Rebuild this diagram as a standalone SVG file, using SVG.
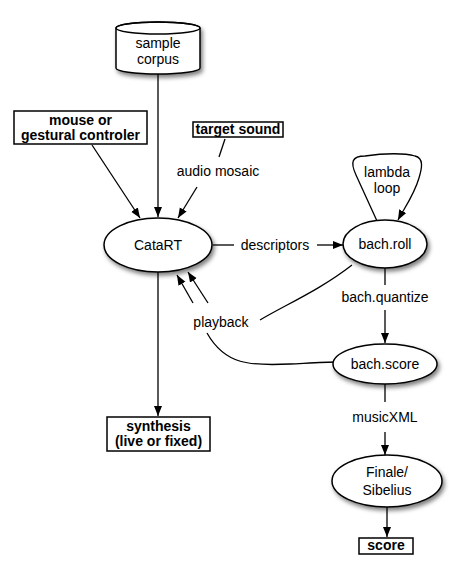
<svg xmlns="http://www.w3.org/2000/svg" width="465" height="575" viewBox="0 0 465 575">
<defs>
<filter id="sh" x="-20%" y="-20%" width="150%" height="160%">
<feDropShadow dx="2" dy="3" stdDeviation="2" flood-color="#000" flood-opacity="0.5"/>
</filter>
<marker id="ah" viewBox="0 0 10 10" refX="10" refY="5" markerWidth="10" markerHeight="10" markerUnits="userSpaceOnUse" orient="auto">
<path d="M0,1 L10,5 L0,9 Z" fill="#000"/>
</marker>
</defs>
<style>
text{font-family:"Liberation Sans",Arial,sans-serif;font-size:14px;fill:#000;text-anchor:middle}
.b{font-weight:bold}
.n{fill:#fff;stroke:#000;stroke-width:1.5}
.box{fill:#fff;stroke:#000;stroke-width:1.5}
.c{fill:none;stroke:#000;stroke-width:1.3}
</style>
<rect width="465" height="575" fill="#fff"/>
<g id="connectors">
<line class="c" x1="158" y1="74" x2="158" y2="217" marker-end="url(#ah)"/>
<line class="c" x1="92" y1="145" x2="140" y2="218" marker-end="url(#ah)"/>
<line class="c" x1="225" y1="139" x2="219" y2="157"/>
<line class="c" x1="197" y1="187" x2="178" y2="218" marker-end="url(#ah)"/>
<line class="c" x1="213" y1="245" x2="234" y2="245"/>
<line class="c" x1="317" y1="245" x2="343" y2="245" marker-end="url(#ah)"/>
<path class="c" d="M377,221 L356,175 C350,162 352,156 365,156 C385,153 405,153 415,156 C424,158 422,168 419,178 C414,195 405,207 398,220" marker-end="url(#ah)"/>
<line class="c" x1="385" y1="268" x2="385" y2="285"/>
<line class="c" x1="385" y1="310" x2="385" y2="343" marker-end="url(#ah)"/>
<path class="c" d="M352,265 C320,290 285,305 260,320"/>
<line class="c" x1="193" y1="303" x2="177" y2="275" marker-end="url(#ah)"/>
<line class="c" x1="208" y1="303" x2="188" y2="272" marker-end="url(#ah)"/>
<path class="c" d="M207,333 C225,365 250,366 290,364 C310,363 325,362 337,362"/>
<line class="c" x1="385" y1="384" x2="385" y2="402"/>
<line class="c" x1="385" y1="432" x2="385" y2="455" marker-end="url(#ah)"/>
<line class="c" x1="158" y1="272" x2="158" y2="416" marker-end="url(#ah)"/>
<line class="c" x1="387" y1="507" x2="387" y2="537" marker-end="url(#ah)"/>
<text x="218" y="176">audio mosaic</text>
<text x="275" y="250">descriptors</text>
<text x="385" y="302">bach.quantize</text>
<text x="221" y="327">playback</text>
<text x="385" y="422">musicXML</text>
<text x="387" y="177">lambda</text>
<text x="387" y="193">loop</text>
</g>
<g id="sample-corpus">
<path class="n" filter="url(#sh)" d="M116,28 L116,68 A42,6 0 0 0 200,68 L200,28 A42,6 0 0 0 116,28 Z"/>
<ellipse cx="158" cy="28" rx="42" ry="6" fill="none" stroke="#000" stroke-width="1.5"/>
<text x="158" y="48">sample</text>
<text x="158" y="64">corpus</text>
</g>
<g id="mouse">
<rect class="box" x="14" y="111" width="133" height="33"/>
<text class="b" x="80.5" y="125">mouse or</text>
<text class="b" x="80.5" y="140">gestural controler</text>
</g>
<g id="target-sound">
<rect class="box" x="193" y="122" width="90" height="15"/>
<text class="b" x="238" y="134">target sound</text>
</g>
<g id="catart">
<ellipse class="n" filter="url(#sh)" cx="158" cy="245" rx="54" ry="27"/>
<text x="158" y="250">CataRT</text>
</g>
<g id="bach-roll">
<ellipse class="n" filter="url(#sh)" cx="385" cy="244" rx="42" ry="24"/>
<text x="385" y="249">bach.roll</text>
</g>
<g id="bach-score">
<ellipse class="n" filter="url(#sh)" cx="385" cy="364" rx="52" ry="20"/>
<text x="385" y="369">bach.score</text>
</g>
<g id="finale">
<ellipse class="n" filter="url(#sh)" cx="387" cy="481" rx="55" ry="26"/>
<text x="387" y="477">Finale/</text>
<text x="387" y="495">Sibelius</text>
</g>
<g id="synthesis">
<rect class="box" x="107" y="417" width="103" height="34"/>
<text class="b" x="158.5" y="431">synthesis</text>
<text class="b" x="158.5" y="446">(live or fixed)</text>
</g>
<g id="score">
<rect class="box" x="359" y="538" width="54" height="16"/>
<text class="b" x="386" y="550">score</text>
</g>
</svg>
